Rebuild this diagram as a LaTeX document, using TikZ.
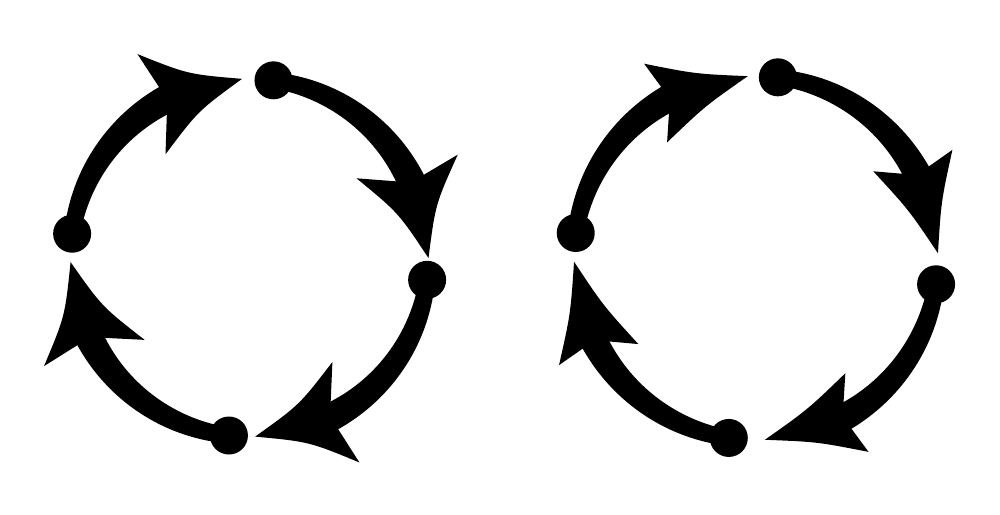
\documentclass[tikz,border=0pt]{standalone}
\usepackage{tikz}
\usetikzlibrary{positioning}

\tikzset{
    dot/.style={circle, fill=black, draw=none, inner sep=0pt, minimum size=38pt},
    shaft/.style={fill=black},
    arrowhead/.style={fill=black},
}

% clockwise arc: dot at angle #1, tip of the head at angle #2
\newcommand{\cycarrow}[2]{%
    \pgfmathsetmacro{\nang}{#2+2*asin(\headlen/(2*\cycR))}%
    \pgfmathsetmacro{\nend}{\nang-2}%
    \pgfmathsetmacro{\arcspan}{(#1)-(\nang)}%
    \pgfmathsetmacro{\hrot}{((\nang)+(#2))/2-90}%
    \pgfmathsetmacro{\sidelen}{sqrt(\headwid*\headwid+(\headlen+\headback)^2)}%
    \pgfmathsetmacro{\cpx}{(\headlen-\headback)/2-2*\headsag*\headwid/\sidelen}%
    \pgfmathsetmacro{\cpy}{\headwid/2-2*\headsag*(\headlen+\headback)/\sidelen}%
    \fill[shaft] plot[domain=#1:\nend, samples=40, variable=\pang]
            (\pang:{\cycR+(\wstart+(\wend-\wstart)*((#1)-(\pang))/\arcspan)/2})
        -- plot[domain=\nend:#1, samples=40, variable=\pang]
            (\pang:{\cycR-(\wstart+(\wend-\wstart)*((#1)-(\pang))/\arcspan)/2})
        -- cycle;
    \begin{scope}[shift={(\nang:\cycR)}, rotate=\hrot]
        \fill[arrowhead] (\headlen,0) .. controls (\cpx,\cpy) .. (-\headback,\headwid)
            -- (0,{\wend/2}) -- (0,{-\wend/2}) -- (-\headback,-\headwid)
            .. controls (\cpx,{-\cpy}) .. cycle;
    \end{scope}
}

\begin{document}
\begin{tikzpicture}[x=1pt, y=1pt]
    \fill[white] (0,0) rectangle (1000,514);
    \begin{scope}[shift={(249.5,256.3)}]
        \def\cycR{179}\def\wstart{16}\def\wend{28}
        \def\headlen{82}\def\headwid{52}\def\headback{12}\def\headsag{4}
        \cycarrow{82.3}{-0.1}
        \cycarrow{-7.1}{-88.2}
        \cycarrow{-96.6}{-178.6}
        \cycarrow{172.3}{92.4}
        \node[dot] (ltop) at (82.3:\cycR) {};
        \node[dot] (lright) at (-7.1:\cycR) {};
        \node[dot] (lbottom) at (-96.6:\cycR) {};
        \node[dot] (lleft) at (172.3:\cycR) {};
    \end{scope}
    \begin{scope}[shift={(756,256)}]
        \def\cycR{182}\def\wstart{16}\def\wend{27}
        \def\headlen{86}\def\headwid{41}\def\headback{10}\def\headsag{2}
        \cycarrow{83.1}{1.5}
        \cycarrow{-8.3}{-87.2}
        \cycarrow{-98.6}{-178.8}
        \cycarrow{172.1}{92.6}
        \node[dot] (rtop) at (83.1:\cycR) {};
        \node[dot] (rright) at (-8.3:\cycR) {};
        \node[dot] (rbottom) at (-98.6:\cycR) {};
        \node[dot] (rleft) at (172.1:\cycR) {};
    \end{scope}
\end{tikzpicture}
\end{document}
